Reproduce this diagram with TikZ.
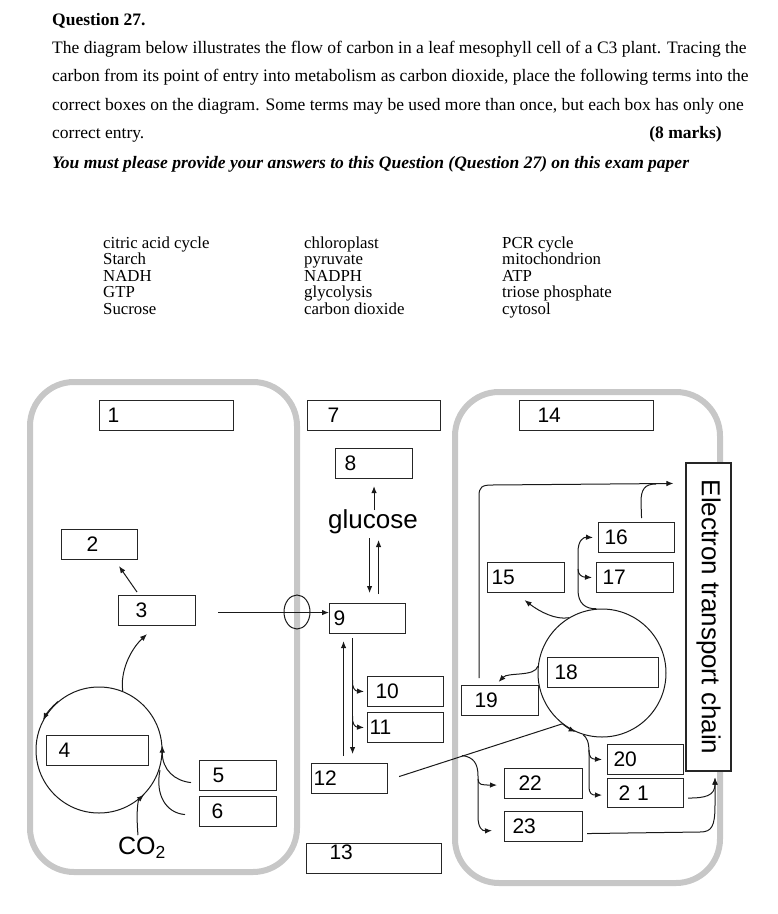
\documentclass[tikz,border=0pt]{standalone}
\usepackage{fontspec}
\setmainfont{Liberation Serif}
\newfontfamily\arial{Liberation Sans}
\usetikzlibrary{arrows.meta,shapes.geometric,calc}
\begin{document}
\begin{tikzpicture}[x=1pt,y=-1pt,
  bx/.style={draw=black!85,line width=1.1pt,inner xsep=0pt,inner ysep=0pt,minimum height=30pt,align=left,anchor=north west,font=\arial\fontsize{21}{24}\selectfont},
  comp/.style={draw=black!22,line width=6pt,rounded corners=44pt},
  cyc/.style={draw=black!90,line width=1pt,circle,inner sep=0pt},
  ln/.style={draw=black!90,line width=1pt},
  arr/.style={ln,-{Latex[length=7pt,width=5.5pt]}},
  hd/.style={anchor=base west,inner sep=0pt,font=\fontsize{17.5}{20}\selectfont},
  tm/.style={anchor=base west,inner sep=0pt,font=\fontsize{16.8}{18}\selectfont}]
\useasboundingbox (0,0) rectangle (778,914);

% ---------- header ----------
\node[hd,font=\bfseries\fontsize{17.5}{20}\selectfont] (q) at (52,25) {Question 27.};
\node[hd] (l1) at (52,53) {The diagram below illustrates the flow of carbon in a leaf mesophyll cell of a C3 plant. Tracing the};
\node[hd] (l2) at (52,81) {carbon from its point of entry into metabolism as carbon dioxide, place the following terms into the};
\node[hd] (l3) at (52,110) {correct boxes on the diagram. Some terms may be used more than once, but each box has only one};
\node[hd] (l4) at (52,138) {correct entry.};
\node[hd,anchor=base east,font=\bfseries\fontsize{17.5}{20}\selectfont] (mk) at (722,138) {(8 marks)};
\node[hd,font=\bfseries\itshape\fontsize{17.5}{20}\selectfont] (l5) at (52,168) {You must please provide your answers to this Question (Question 27) on this exam paper};

% ---------- terms ----------
\node[tm] (t11) at (103,248) {citric acid cycle};
\node[tm] (t12) at (103,264.5) {Starch};
\node[tm] (t13) at (103,281) {NADH};
\node[tm] (t14) at (103,297.5) {GTP};
\node[tm] (t15) at (103,314) {Sucrose};
\node[tm] (t21) at (304,248) {chloroplast};
\node[tm] (t22) at (304,264.5) {pyruvate};
\node[tm] (t23) at (304,281) {NADPH};
\node[tm] (t24) at (304,297.5) {glycolysis};
\node[tm] (t25) at (304,314) {carbon dioxide};
\node[tm] (t31) at (502,248) {PCR cycle};
\node[tm] (t32) at (502,264.5) {mitochondrion};
\node[tm] (t33) at (502,281) {ATP};
\node[tm] (t34) at (502,297.5) {triose phosphate};
\node[tm] (t35) at (502,314) {cytosol};

% ---------- compartments ----------
\draw[comp] (30,382) rectangle (297,872);
\draw[comp] (455,392) rectangle (720,883);

% ---------- cycles ----------
\node[cyc,minimum size=126pt] (c4) at (99,750) {};
\node[cyc,minimum size=128pt] (c18) at (602,673) {};
\node[draw=black!90,line width=1pt,ellipse,minimum width=26pt,minimum height=34pt,inner sep=0pt] (pore) at (297,612) {};

% ---------- boxes ----------
\node[bx,text width=134pt] (b1) at (99,400) {\hspace*{8pt}1};
\node[bx,text width=76pt] (b2) at (61,529) {\hspace*{25pt}2};
\node[bx,text width=77pt] (b3) at (118,595) {\hspace*{17pt}3};
\node[bx,text width=102pt] (b4) at (46,735) {\hspace*{12pt}4};
\node[bx,text width=77pt] (b5) at (199,760) {\hspace*{13pt}5};
\node[bx,text width=77pt] (b6) at (199,796) {\hspace*{12pt}6};
\node[bx,text width=133pt] (b7) at (307,400) {\hspace*{20pt}7};
\node[bx,text width=77pt] (b8) at (335,448) {\hspace*{9pt}8};
\node[bx,text width=76pt] (b9) at (329,603) {\hspace*{4pt}9};
\node[bx,text width=76pt] (b10) at (367,676) {\hspace*{8pt}10};
\node[bx,text width=76pt] (b11) at (367,712) {\hspace*{2pt}11};
\node[bx,text width=76pt] (b12) at (311,763) {\hspace*{2pt}12};
\node[bx,text width=135pt] (b13) at (306,843) {\hspace*{23pt}\raisebox{7pt}[0.72em][0pt]{13}};
\node[bx,text width=134pt] (b14) at (519,400) {\hspace*{18pt}14};
\node[bx,text width=77pt] (b15) at (487,562) {\hspace*{4pt}15};
\node[bx,text width=76pt] (b16) at (598,522) {\hspace*{6pt}16};
\node[bx,text width=77pt] (b17) at (596,562) {\hspace*{6pt}17};
\node[bx,text width=111pt] (b18) at (547,657) {\hspace*{7pt}18};
\node[bx,text width=77pt] (b19) at (461,685) {\hspace*{13pt}19};
\node[bx,text width=76pt] (b20) at (607,744) {\hspace*{6pt}20};
\node[bx,text width=76pt,minimum height=29pt] (b21) at (607,778) {\hspace*{11pt}2 1};
\node[bx,text width=78pt] (b22) at (504,768) {\hspace*{14pt}22};
\node[bx,text width=78pt] (b23) at (504,811) {\hspace*{8pt}23};
\node[draw=black!85,line width=1.1pt,fill=white,minimum width=45pt,minimum height=308pt,inner sep=0pt,font=\arial\fontsize{26}{28}\selectfont] (etc) at (708.5,617) {\rotatebox{-90}{Electron transport chain}};

% ---------- free labels ----------
\node[font=\arial\fontsize{26}{28}\selectfont,inner sep=0pt] (glu) at (373,522) {glucose};
\node[font=\arial\fontsize{25}{28}\selectfont,inner sep=0pt] (co2) at (142,848) {CO\textsubscript{2}};

% ---------- chloroplast connectors ----------
\draw[arr] ($(b3.north west)+(19,-3)$) -- ($(b2.south west)+(58,6)$);
\draw[arr] ($(b3.east)+(22,2)$) -- ($(b9.west)+(0,-6)$);
\draw[arr] (c4.130) arc[start angle=-130,end angle=-152,radius=63];
\draw[arr] (c4.68) .. controls (120,672) and (130,650) .. ($(b3.south west)+(29,8)$);
\draw[arr] ($(b5.west)+(-8,7)$) .. controls (175,781) and (162,770) .. (c4.4);
\draw[ln] ($(b6.west)+(-14,3)$) .. controls (166,813) and (155,795) .. (160,770);
\draw[arr] ($(co2.north)+(-4,-2)$) .. controls (136,812) and (138,800) .. (c4.-45);

% ---------- cytosol connectors ----------
\draw[arr] ($(b8.south)+(0,31)$) -- ($(b8.south)+(0,7)$);
\draw[arr] ($(b9.north)+(2,-65)$) -- ($(b9.north)+(2,-10)$);
\draw[arr] ($(b9.north)+(11,-9)$) -- ($(b9.north)+(11,-63)$);
\draw[arr] ($(b12.north)+(-6,-7)$) -- ($(b9.south)+(-24,7)$);
\draw[arr] ($(b9.south)+(-15,4)$) -- ($(b12.north)+(3,-9)$);
\draw[arr] ($(b9.south)+(-15,46)$) .. controls (352,688) and (355,691) .. ($(b10.west)+(-3,0)$);
\draw[arr] ($(b9.south)+(-15,82)$) .. controls (352,724) and (355,727) .. ($(b11.west)+(-3,0)$);

% ---------- 12 into mitochondrion ----------
\draw[arr] ($(b12.east)+(11,-2)$) -- (c18.-128) arc[start angle=128,end angle=114,radius=64];
\coordinate (br) at (462,755.5);
\draw[arr] (br) .. controls (474,757) and (478,764) .. (478,776) -- (478,816) .. controls (478,828) and (482,831) .. ($(b23.west)+(-12,4)$);
\draw[arr] (478,779) .. controls (478,785) and (482,785) .. ($(b22.west)+(-7,1.5)$);

% ---------- mitochondrion connectors ----------
\draw[arr] (c18.-107) .. controls (587,738) and (589,742) .. (589,752) -- (589,786) .. controls (589,794) and (592,795) .. ($(b21.west)+(-5,2)$);
\draw[arr] (589,750) .. controls (589,758) and (592,759) .. ($(b20.west)+(-5,0)$);
\draw[arr] (c18.121) .. controls (556,620) and (540,612) .. ($(b15.south)+(-1.5,7)$);
\draw[arr] (c18.95) .. controls (586,609) and (578,604) .. (578,590) -- (578,552) .. controls (578,541) and (583,537) .. ($(b16.west)+(-5,0)$);
\draw[arr] (578,569) .. controls (578,575) and (582,577) .. ($(b17.west)+(-4,0)$);
\draw[arr] (c18.174) .. controls (535,677) and (508,672) .. ($(b19.north)+(-1.5,-3)$);
\draw[arr] ($(b19.north west)+(18,-7)$) -- (479,496) .. controls (479,487) and (482,485) .. (492,485) -- ($(etc.north west)+(-12,21)$);
\draw[ln] ($(b16.north)+(5,-4)$) -- (641,502) .. controls (641,489) and (645,484) .. (656,484);
\draw[arr] ($(b21.east)+(4,5)$) .. controls (705,798) and (715,796) .. ($(etc.south)+(6.5,6)$);
\draw[arr] ($(b23.east)+(4,7)$) -- (700,832) .. controls (712,832) and (715,826) .. (715,805) -- ($(etc.south)+(6.5,6)$);
\end{tikzpicture}
\end{document}
